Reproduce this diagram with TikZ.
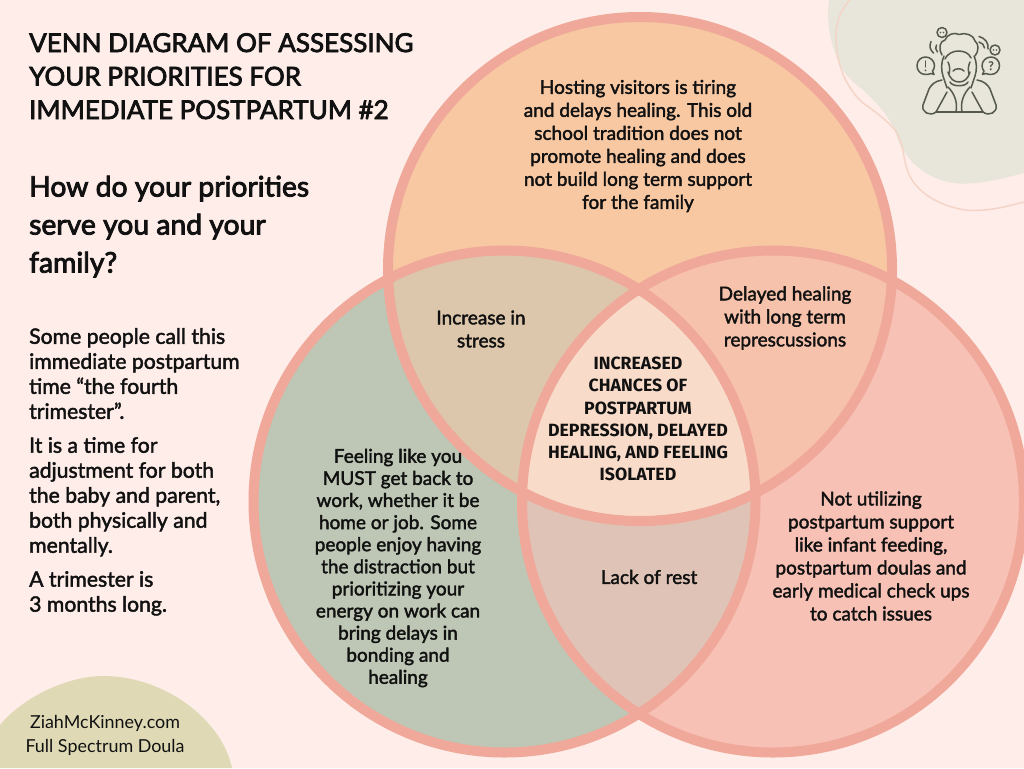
\documentclass[tikz,border=0pt]{standalone}
\usepackage{fontspec}
\setmainfont{Lato}[BoldFont={Lato},BoldFeatures={FakeBold=2}]
\newfontfamily\capsfont{Fira Sans}
\newfontfamily\headfont{Lato}[FakeBold=3]
\usetikzlibrary{calc}
\definecolor{bgc}{HTML}{FEEDE9}
\definecolor{ringc}{HTML}{EFA899}
\definecolor{topc}{HTML}{F8C8A3}
\definecolor{leftc}{HTML}{BEC7B5}
\definecolor{rightc}{HTML}{F7C1B5}
\definecolor{tlc}{HTML}{DCC6AC}
\definecolor{trc}{HTML}{F7C2AB}
\definecolor{lrc}{HTML}{DEC3B6}
\definecolor{midc}{HTML}{F8DBC9}
\definecolor{blobc}{HTML}{E8E5DA}
\definecolor{blobline}{HTML}{F4D5C8}
\definecolor{footc}{HTML}{DFDAB5}
\definecolor{iconc}{HTML}{55594E}
\definecolor{inkc}{HTML}{111111}
\tikzset{
 x=1pt,y=-1pt,
 ring/.style={draw=ringc,line width=10pt},
 vlabel/.style={align=center,text=inkc,font=\fontsize{19}{23}\selectfont\bfseries,inner sep=0pt},
 hlabel/.style={align=left,anchor=north west,text=inkc,inner sep=0pt},
 bodytext/.style={hlabel,font=\fontsize{21.2}{25}\selectfont\bfseries},
 capslabel/.style={align=center,text=inkc,font=\capsfont\fontsize{17.7}{22.2}\selectfont\bfseries,inner sep=0pt},
 icon/.style={draw=iconc,line width=1.5pt,line cap=round,line join=round,fill=none}
}
\begin{document}
\begin{tikzpicture}
\useasboundingbox (0,0) rectangle (1024,768);
\fill[bgc] (0,0) rectangle (1024,768);
% decorative blob
\fill[blobc] (1024,173) .. controls (1005,178) and (975,186) .. (953,183)
 .. controls (925,178) and (905,160) .. (897,137) .. controls (893,122) and (880,105) .. (863,90)
 .. controls (850,80) and (840,70) .. (836,55) .. controls (828,35) and (827,15) .. (829,0) -- (1024,0) -- cycle;
\draw[blobline,line width=1.5pt] (850,0) .. controls (840,10) and (835,25) .. (836,40)
 .. controls (837,70) and (850,92) .. (863,103) .. controls (880,115) and (892,125) .. (897,133)
 .. controls (904,145) and (903,160) .. (908,172) .. controls (915,190) and (935,205) .. (965,210)
 .. controls (985,212) and (1005,207) .. (1024,202);
% footer
\fill[footc] (0,768) -- (0,725) .. controls (25,695) and (70,676) .. (103,676)
 .. controls (165,676) and (222,720) .. (232,768) -- cycle;
\node[inner sep=0pt,text=inkc,font=\fontsize{17.9}{24}\selectfont,align=center] (foot) at (105,735) {ZiahMcKinney.com\\Full Spectrum Doula};
% circles
\coordinate (ct) at (640,269);
\coordinate (cl) at (504.5,501.5);
\coordinate (cr) at (773,501.5);
\def\rr{252}
\def\rs{251}
\fill[topc] (ct) circle (\rr);
\fill[leftc] (cl) circle (\rs);
\fill[rightc] (cr) circle (\rs);
\begin{scope}\clip (ct) circle (\rr); \fill[tlc] (cl) circle (\rs); \end{scope}
\begin{scope}\clip (ct) circle (\rr); \fill[trc] (cr) circle (\rs); \end{scope}
\begin{scope}\clip (cl) circle (\rs); \fill[lrc] (cr) circle (\rs); \end{scope}
\begin{scope}\clip (ct) circle (\rr); \clip (cl) circle (\rs); \fill[midc] (cr) circle (\rs); \end{scope}
\draw[ring] (ct) circle (\rr);
\draw[ring] (cl) circle (\rs);
\draw[ring] (cr) circle (\rs);
% heading
\node[hlabel,font=\headfont\fontsize{26}{33.5}\selectfont] (title) at (29,33) {VENN DIAGRAM OF ASSESSING\\YOUR PRIORITIES FOR\\IMMEDIATE POSTPARTUM \#2};
\node[hlabel,font=\headfont\fontsize{28.3}{38}\selectfont] (sub) at (29,175.5) {How do your priorities\\serve you and your\\family?};
\node[bodytext] (p1) at (29,328) {Some people call this\\immediate postpartum\\time “the fourth\\trimester”.};
\node[bodytext] (p2) at (29,437) {It is a time for\\adjustment for both\\the baby and parent,\\both physically and\\mentally.};
\node[bodytext] (p3) at (29,571) {A trimester is\\3 months long.};
% venn labels
\node[vlabel] (a) at (638,146) {Hosting visitors is tiring\\and delays healing. This old\\school tradition does not\\promote healing and does\\not build long term support\\for the family};
\node[vlabel] (b) at (481,329) {Increase in\\stress};
\node[vlabel] (c) at (785,318) {Delayed healing\\with long term\\represcussions};
\node[capslabel] (d) at (638,419) {INCREASED\\CHANCES OF\\POSTPARTUM\\DEPRESSION, DELAYED\\HEALING, AND FEELING\\ISOLATED};
\node[vlabel,font=\fontsize{19}{22.1}\selectfont\bfseries] (e) at (398,568) {Feeling like you\\MUST get back to\\work, whether it be\\home or job. Some\\people enjoy having\\the distraction but\\prioritizing your\\energy on work can\\bring delays in\\bonding and\\healing};
\node[vlabel] (f) at (649,577) {Lack of rest};
\node[vlabel] (g) at (871,556) {Not utilizing\\postpartum support\\like infant feeding,\\postpartum doulas and\\early medical check ups\\to catch issues};
% icon
\begin{scope}[icon]
 % hair
 \draw (942,55) .. controls (938,48) and (940,41) .. (945,40) .. controls (947,34) and (955,32) .. (959,34.5)
  .. controls (965,32) and (974,35) .. (975,41) .. controls (979,44) and (979,51) .. (975,56);
 \draw (945,59) .. controls (947,54) and (953,51) .. (958,51) .. controls (964,51) and (969,53) .. (971,58);
 % face
 \draw (948,72) .. controls (950,79) and (954,82) .. (959,82) .. controls (964,82) and (968,79) .. (970,72);
 \draw (953,71) .. controls (955,68) and (962,68) .. (964,71);
 \draw (950,82) .. controls (952,87) and (966,87) .. (968,82);
 % left hand and arm
 \draw (944,56) .. controls (941,62) and (941,70) .. (943,76) -- (947,88);
 \draw (948,62) .. controls (950,66) and (950,70) .. (949,74);
 \draw (942,80) .. controls (935,81) and (931,85) .. (929,89) -- (923,105)
  .. controls (921,112) and (930,117) .. (936,112) -- (947,92);
 % right hand and arm
 \draw (974,56) .. controls (977,62) and (977,70) .. (975,76) -- (971,88);
 \draw (970,62) .. controls (968,66) and (968,70) .. (969,74);
 \draw (977,80) .. controls (984,81) and (988,85) .. (990,89) -- (996,105)
  .. controls (998,112) and (989,117) .. (983,112) -- (972,92);
 % torso
 \draw (936,112) -- (983,112);
 \draw (948,87) .. controls (954,93) and (958,102) .. (956,112);
 \draw (970,87) .. controls (964,93) and (960,102) .. (962,112);
 % big bubbles
 \draw (931,73.5) .. controls (929,74.5) and (927,74.5) .. (925.5,74.5) .. controls (920,74.5) and (917,70) .. (917,65.7)
  .. controls (917,60.5) and (921,57) .. (925.5,57) .. controls (930.5,57) and (934.5,61) .. (934.5,65.7)
  .. controls (934.5,68) and (933.5,70) .. (932.5,71) -- (934,74.5) -- cycle;
 \draw (986,73.5) .. controls (988,74.5) and (990,74.5) .. (991,74.5) .. controls (996,74.5) and (999.5,70) .. (999.5,65.7)
  .. controls (999.5,60.5) and (995.5,57) .. (991,57) .. controls (986,57) and (982,61) .. (982,65.7)
  .. controls (982,68) and (983,70) .. (984,71) -- (982.5,74.5) -- cycle;
 % small bubbles
 \draw (942,32.5) circle (5);
 \draw (995,50) circle (5);
 \draw (925.5,61) -- (925.5,67);
 \draw (931,41.5) .. controls (929,46) and (930,50) .. (933.5,53);
 \draw (936.5,45) .. controls (935,47) and (935.5,50) .. (937.5,52);
 \draw (979,36.5) .. controls (985,38) and (989,43) .. (988,49);
 \draw (979,42) .. controls (982,43) and (984.5,45) .. (984.5,48);
\end{scope}
\fill[iconc] (925.5,70.3) circle (1);
\fill[iconc] (940.5,32.5) circle (0.8);
\fill[iconc] (943.5,32.5) circle (0.8);
\fill[iconc] (993.5,50) circle (0.8);
\fill[iconc] (996.5,50) circle (0.8);
\node[inner sep=0pt,text=iconc,font=\fontsize{12}{12}\selectfont\bfseries] (q) at (991,65.7) {?};
\end{tikzpicture}
\end{document}
